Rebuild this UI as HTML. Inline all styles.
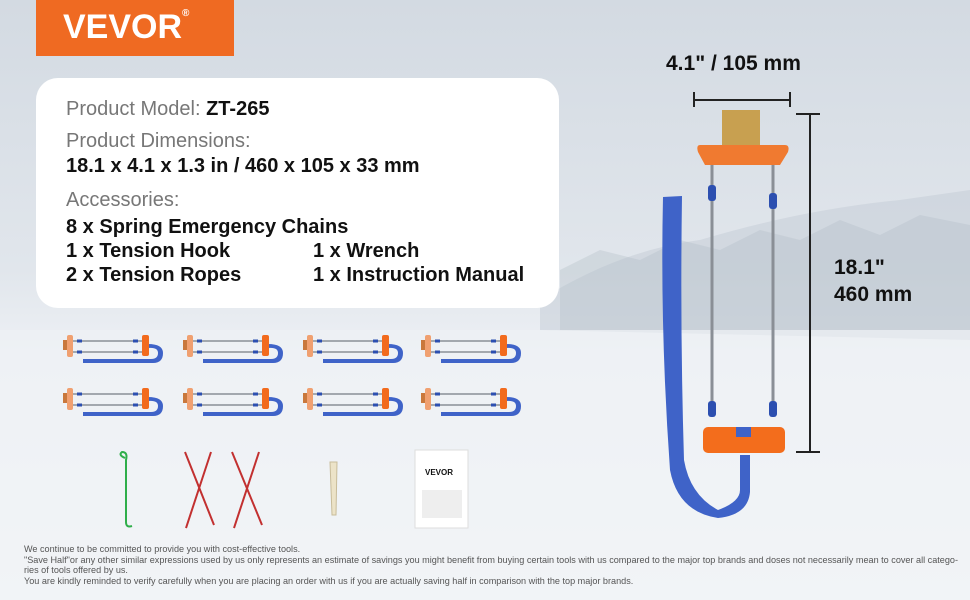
<!DOCTYPE html>
<html><head><meta charset="utf-8"><style>
html,body{margin:0;padding:0;}
body{width:970px;height:600px;overflow:hidden;position:relative;font-family:"Liberation Sans",Arial,sans-serif;}
.t{position:absolute;white-space:nowrap;}
</style></head><body>
<svg width="970" height="600" style="position:absolute;left:0;top:0">
<defs>
<linearGradient id="bg" x1="0" y1="0" x2="0" y2="1">
<stop offset="0" stop-color="#d3dae2"/><stop offset="0.45" stop-color="#e1e6ec"/><stop offset="0.6" stop-color="#eef1f5"/><stop offset="1" stop-color="#f6f7f9"/>
</linearGradient>
<g id="mc">
<line x1="8" y1="6" x2="80" y2="6" stroke="#8a8f96" stroke-width="1.5"/>
<line x1="8" y1="17" x2="80" y2="17" stroke="#8a8f96" stroke-width="1.5"/>
<rect x="14" y="4.5" width="5" height="3" fill="#2c4fb0"/><rect x="14" y="15.5" width="5" height="3" fill="#2c4fb0"/>
<rect x="70" y="4.5" width="5" height="3" fill="#2c4fb0"/><rect x="70" y="15.5" width="5" height="3" fill="#2c4fb0"/>
<path d="M85 9 Q100 9 100 18 Q100 28 90 28 L20 28 L20 24 L88 24 Q95 24 95 18 Q95 12 85 13Z" fill="#3f63c8"/>
<rect x="79" y="0" width="7" height="21" rx="2" fill="#f26b1d"/>
<rect x="0" y="5" width="5" height="10" fill="#c9783c"/>
<rect x="4" y="0" width="6" height="22" rx="2" fill="#f0a070"/>
</g>
</defs>
<rect width="970" height="600" fill="url(#bg)"/>
<path d="M540 300 Q620 250 700 240 Q800 210 900 200 L970 190 L970 340 L540 330Z" fill="#c3ccd5" opacity="0.5"/>
<path d="M560 270 L600 250 L640 260 L680 240 L720 250 L760 230 L800 240 L840 220 L880 235 L920 215 L970 225 L970 330 L560 330Z" fill="#b3bcc6" opacity="0.35"/>
<rect x="0" y="330" width="970" height="270" fill="#eef1f5" opacity="0.6"/>
<rect x="36" y="0" width="198" height="56" fill="#ef6a22"/>
<rect x="36" y="78" width="523" height="230" rx="22" fill="#fff"/>
<use href="#mc" x="63" y="335"/><use href="#mc" x="183" y="335"/><use href="#mc" x="303" y="335"/><use href="#mc" x="421" y="335"/>
<use href="#mc" x="63" y="388"/><use href="#mc" x="183" y="388"/><use href="#mc" x="303" y="388"/><use href="#mc" x="421" y="388"/>
<path d="M125 458 Q118 455 122 452 Q128 452 126 460 L126 522 Q126 528 132 526" fill="none" stroke="#2fae4a" stroke-width="2"/>
<path d="M185 452 L214 525 M211 452 L186 528" stroke="#c23030" stroke-width="2"/>
<path d="M232 452 L262 525 M259 452 L234 528" stroke="#c23030" stroke-width="2"/>
<path d="M330 462 L337 462 L336 515 L332 515Z" fill="#ece3c8" stroke="#c8bc9a"/>
<rect x="415" y="450" width="53" height="78" fill="#fff" stroke="#ddd"/>
<rect x="422" y="490" width="40" height="28" fill="#eee"/>
<line x1="694" y1="100" x2="790" y2="100" stroke="#222" stroke-width="2"/>
<line x1="694" y1="92" x2="694" y2="107" stroke="#222" stroke-width="2"/>
<line x1="790" y1="92" x2="790" y2="107" stroke="#222" stroke-width="2"/>
<line x1="810" y1="114" x2="810" y2="452" stroke="#222" stroke-width="2"/>
<line x1="796" y1="114" x2="820" y2="114" stroke="#222" stroke-width="2"/>
<line x1="796" y1="452" x2="820" y2="452" stroke="#222" stroke-width="2"/>
<path d="M663 197 L682 196 Q680 330 684 460 Q690 495 718 510 Q740 502 740 490 L740 455 L750 455 L750 492 Q748 515 718 518 Q678 512 670 470 Q660 330 663 197Z" fill="#3f63c8"/>
<line x1="712" y1="165" x2="712" y2="415" stroke="#8a8f96" stroke-width="3"/>
<line x1="773" y1="165" x2="773" y2="415" stroke="#8a8f96" stroke-width="3"/>
<rect x="708" y="185" width="8" height="16" rx="3" fill="#2c4fb0"/>
<rect x="769" y="193" width="8" height="16" rx="3" fill="#2c4fb0"/>
<rect x="708" y="401" width="8" height="16" rx="3" fill="#2c4fb0"/>
<rect x="769" y="401" width="8" height="16" rx="3" fill="#2c4fb0"/>
<rect x="722" y="110" width="38" height="38" fill="#c8a050"/>
<path d="M700 145 L785 145 Q790 145 788 152 L780 165 L705 165 L698 152 Q696 145 700 145Z" fill="#f07a30"/>
<rect x="703" y="427" width="82" height="26" rx="5" fill="#f36d1c"/>
<rect x="736" y="427" width="15" height="10" fill="#3f63c8"/>
</svg>
<div class="t" style="left:63px;top:8px;font-size:34px;font-weight:bold;color:#fff">VEVOR<span style="font-size:10px;vertical-align:top">®</span></div>
<div class="t" style="left:66px;top:98px;font-size:20px;color:#777">Product Model: <b style="color:#111">ZT-265</b></div>
<div class="t" style="left:66px;top:130px;font-size:20px;color:#777">Product Dimensions:</div>
<div class="t" style="left:66px;top:155px;font-size:20px;font-weight:bold;color:#111">18.1 x 4.1 x 1.3 in / 460 x 105 x 33 mm</div>
<div class="t" style="left:66px;top:189px;font-size:20px;color:#777">Accessories:</div>
<div class="t" style="left:66px;top:215px;font-size:20px;font-weight:bold;color:#111;line-height:24px">8 x Spring Emergency Chains<br>1 x Tension Hook<br>2 x Tension Ropes</div>
<div class="t" style="left:313px;top:239px;font-size:20px;font-weight:bold;color:#111;line-height:24px">1 x Wrench<br>1 x Instruction Manual</div>
<div class="t" style="left:666px;top:52px;font-size:21px;font-weight:bold;color:#111">4.1" / 105 mm</div>
<div class="t" style="left:834px;top:254px;font-size:21px;font-weight:bold;color:#111;line-height:27px">18.1"<br>460 mm</div>
<div class="t" style="left:425px;top:468px;font-size:8px;font-weight:bold;color:#111">VEVOR</div>
<div class="t" style="left:24px;top:544px;font-size:9.1px;color:#555;line-height:10.5px">We continue to be committed to provide you with cost-effective tools.<br>"Save Half"or any other similar expressions used by us only represents an estimate of savings you might benefit from buying certain tools with us compared to the major top brands and doses not necessarily mean to cover all catego-<br>ries of tools offered by us.<br>You are kindly reminded to verify carefully when you are placing an order with us if you are actually saving half in comparison with the top major brands.</div>
</body></html>
